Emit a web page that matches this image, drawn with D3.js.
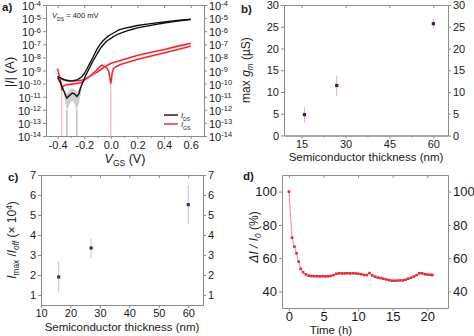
<!DOCTYPE html>
<html><head><meta charset="utf-8">
<script src="https://cdn.jsdelivr.net/npm/d3@7"></script>
<style>
body{margin:0;background:#fff}
svg{display:block}
text{font-family:"Liberation Sans",Arial,sans-serif;fill:#1a1a1a}
</style>
</head><body>
<svg id="fig" width="474" height="336"></svg>
<script>
// ---------- a) transfer curves ----------
const vUp   = [-0.40,-0.37,-0.34,-0.31,-0.28,-0.25,-0.22,-0.20,-0.18,-0.16,-0.14,-0.12,-0.10,-0.08,-0.06,-0.04,-0.02,0.00,0.03,0.06,0.10,0.15,0.20,0.30,0.40,0.50,0.60];
const idsUp = [3.5e-10,2.5e-10,1.8e-10,1.6e-10,1.7e-10,2.0e-10,3.2e-10,5.6e-10,1.3e-9,3.2e-9,7.9e-9,2.0e-8,5.0e-8,1.0e-7,1.8e-7,2.8e-7,4.2e-7,5.6e-7,8.3e-7,1.26e-6,1.66e-6,2.1e-6,2.7e-6,3.8e-6,5.0e-6,6.6e-6,8.3e-6];
const vDn   = [-0.40,-0.38,-0.36,-0.34,-0.33,-0.31,-0.29,-0.27,-0.255,-0.24,-0.23,-0.21,-0.19,-0.17,-0.15,-0.13,-0.11,-0.09,-0.07,-0.05,-0.03,0.00,0.03,0.06,0.10,0.15,0.20,0.30,0.40,0.50,0.60];
const idsDn = [2.8e-10,1.26e-10,4.0e-11,1.26e-11,7.9e-12,1.26e-11,1.9e-11,1.6e-11,1.0e-11,1.6e-11,4.0e-11,1.26e-10,4.0e-10,1.0e-9,2.5e-9,6.3e-9,1.4e-8,3.2e-8,6.3e-8,1.1e-7,1.8e-7,2.8e-7,4.5e-7,6.3e-7,8.9e-7,1.3e-6,1.8e-6,2.8e-6,4.2e-6,6.0e-6,7.9e-6];
// spread of the drain current in the off region
const vBand   = [-0.35,-0.34,-0.33,-0.32,-0.31,-0.30,-0.29,-0.28,-0.27,-0.26,-0.255,-0.25,-0.24,-0.23,-0.22];
const bandHi  = [3.2e-11,2.5e-11,1.6e-11,2.5e-11,3.2e-11,4.0e-11,4.5e-11,4.0e-11,3.2e-11,2.5e-11,2.0e-11,2.5e-11,3.2e-11,5.0e-11,7.9e-11];
const bandLo  = [1.0e-11,2.5e-12,1.0e-12,1.6e-12,2.5e-12,4.0e-12,5.0e-12,4.0e-12,2.5e-12,1.26e-12,1.0e-12,1.6e-12,3.2e-12,1.0e-11,2.5e-11];
const bandDropV = [-0.33,-0.255];
// gate current
const vGs1 = [-0.40,-0.39,-0.38,-0.372,-0.368,-0.36,-0.34,-0.30,-0.26,-0.22,-0.20,-0.16,-0.12,-0.09,-0.07,-0.05,-0.03,-0.015,0.00,0.01,0.02,0.04,0.07,0.10,0.15,0.20,0.30,0.40,0.50,0.60];
const igs1 = [1.4e-9,5.0e-10,2.0e-10,7.9e-11,3.2e-11,6.3e-11,7.9e-11,8.9e-11,1.0e-10,1.26e-10,1.8e-10,3.5e-10,7.9e-10,1.6e-9,2.5e-9,2.2e-9,1.6e-9,7.9e-10,1.0e-10,6.3e-10,1.4e-9,2.0e-9,2.8e-9,3.5e-9,5.0e-9,7.1e-9,1.26e-8,2.2e-8,4.0e-8,7.4e-8];
const vGs2 = [-0.40,-0.37,-0.34,-0.30,-0.26,-0.22,-0.20,-0.15,-0.10,-0.05,0.00,0.05,0.10,0.15,0.20,0.30,0.40,0.50,0.60];
const igs2 = [3.2e-10,2.2e-10,1.8e-10,1.6e-10,1.6e-10,1.8e-10,2.0e-10,4.0e-10,7.9e-10,1.8e-9,3.5e-9,5.0e-9,7.1e-9,1.0e-8,1.4e-8,2.4e-8,4.0e-8,7.1e-8,1.2e-7];
const gsDipV = [-0.368, 0.0];
const gsDipI = [3.2e-11, 1.0e-10];
const aXTicks = [-0.4,-0.2,0,0.2,0.4,0.6];
const aXMinor = [-0.3,-0.1,0.1,0.3,0.5];
const aYTicks = [1e-4,1e-5,1e-6,1e-7,1e-8,1e-9,1e-10,1e-11,1e-12,1e-13,1e-14];

// ---------- b) transconductance ----------
const thickness = [16, 27, 60];
const gmMax  = [4.8, 11.5, 25.7];
const gmLo   = [3.0, 9.0, 24.6];
const gmHi   = [6.5, 13.8, 26.8];
const bXTicks = [15, 30, 45, 60];
const bXMinor = [22.5, 37.5, 52.5];
const bYTicks = [0, 5, 10, 15, 20, 25, 30];

// ---------- c) on/off ratio ----------
const onOff   = [1.9, 3.35, 5.52];
const onOffLo = [1.15, 2.85, 4.55];
const onOffHi = [2.7, 3.82, 6.5];
const cXTicks = [10, 20, 30, 40, 50, 60];
const cYTicks = [1, 2, 3, 4, 5, 6, 7];

// ---------- d) stability ----------
const timeH = [0,0.45,0.8,1.1,1.4,1.7,2.05,2.45,2.85,3.25,3.65,4.05,4.45,4.85,5.25,5.65,6.05,6.45,6.85,7.25,7.65,8.05,8.45,8.85,9.25,9.65,10.05,10.45,10.85,11.25,11.65,12.05,12.45,12.85,13.25,13.65,14.05,14.45,14.85,15.25,15.65,16.05,16.45,16.85,17.25,17.65,18.05,18.45,18.85,19.25,19.65,20.05,20.45,20.75];
const dI    = [100,72.3,66.9,62.9,57.9,53.5,51.5,50.2,49.5,49.2,49.1,49.1,49.0,49.1,49.0,49.1,49.3,49.8,50.6,50.9,50.8,50.8,50.9,50.8,50.9,50.8,50.6,50.3,49.9,49.8,51.0,49.6,48.8,48.3,48.0,47.6,47.2,46.8,46.5,46.4,46.5,46.6,46.6,47.0,47.6,48.2,48.9,49.8,50.9,50.9,50.3,50.1,50.0,49.8];
const dXTicks = [0, 5, 10, 15, 20];
const dYTicks = [40, 60, 80, 100];

const svg = d3.select("#fig");
const AX = "#8c8c8c";

function style(g, fs){
  g.select(".domain").attr("stroke", AX);
  g.selectAll(".tick line").attr("stroke", AX);
  g.selectAll(".tick text").attr("font-size", fs).attr("fill", "#1a1a1a");
  return g;
}

// boxed frame: labelled left/right/bottom axes, inward ticks along the top
function box(x, y, o){
  const [x0, x1] = x.range(), [y0, y1] = y.range();
  const g = svg.append("g");
  const fmtX = o.fmtX || (d => d);
  const fmtY = o.fmtY || (d => d);
  const pad = o.pad == null ? 2 : o.pad;
  if (o.xMinor) g.append("g").attr("transform", `translate(0,${y0})`)
    .call(d3.axisBottom(x).tickValues(o.xMinor).tickSize(2).tickSizeOuter(0).tickFormat(""))
    .call(s => style(s, 0));
  g.append("g").attr("class", "bottom").attr("transform", `translate(0,${y0})`)
    .call(d3.axisBottom(x).tickValues(o.xTicks).tickSize(3).tickSizeOuter(0).tickPadding(pad).tickFormat(fmtX))
    .call(s => style(s, o.fs));
  g.append("g").attr("transform", `translate(0,${y1})`)
    .call(d3.axisTop(x).tickValues(o.xTicks).tickSize(-3).tickSizeOuter(0).tickFormat(""))
    .call(s => style(s, 0));
  g.append("g").attr("class", "side").attr("transform", `translate(${x0},0)`)
    .call(d3.axisLeft(y).tickValues(o.yTicks).tickSize(3).tickSizeOuter(0).tickPadding(2).tickFormat(fmtY))
    .call(s => style(s, o.fs));
  g.append("g").attr("class", "side").attr("transform", `translate(${x1},0)`)
    .call(d3.axisRight(y).tickValues(o.yTicks).tickSize(3).tickSizeOuter(0).tickPadding(2).tickFormat(fmtY))
    .call(s => style(s, o.fs));
  return g;
}

// rich text: parts = [[text, {italic, sub, sup}], ...]
function rich(sel, parts, fs, supRise){
  const rise = supRise == null ? 4.5 : supRise;
  let shift = 0;
  parts.forEach(([t, f]) => {
    f = f || {};
    const target = f.sub ? 3 : f.sup ? -rise : 0;
    const sp = sel.append("tspan").text(t)
      .attr("dy", target - shift)
      .attr("font-size", (f.sub || f.sup) ? fs * 0.68 : fs);
    if (f.italic) sp.attr("font-style", "italic");
    shift = target;
  });
  return sel;
}

const dash = d => String(d).replace("\u2212", "-");

// ===== panel a =====
const xa = d3.scaleLinear().domain([-0.487, 0.70]).range([46, 204]);
const ya = d3.scaleLog().domain([1e-14, 1e-4]).range([136, 5]).clamp(true);
const ga = box(xa, ya, {xTicks: aXTicks, xMinor: aXMinor, yTicks: aYTicks, fs: 11,
  fmtX: d => dash(d3.format(".1f")(d)), fmtY: () => ""});
// power-of-ten labels on both log axes
ga.selectAll(".side .tick text").each(function(d){
  const t = d3.select(this).attr("dy", null).attr("y", 4.5);
  rich(t, [["10"], ["-" + Math.round(-Math.log10(d)), {sup: true}]], 11, 3.6);
});

const plotA = svg.append("g");
const la = d3.line().x(d => xa(d[0])).y(d => ya(d[1]));
plotA.append("path")
  .attr("d", d3.area().x(d => xa(d[0])).y0(d => ya(d[2])).y1(d => ya(d[1]))(d3.zip(vBand, bandHi, bandLo)))
  .attr("fill", "#bdbdbd").attr("opacity", 0.75);
bandDropV.forEach(v => {
  plotA.append("line").attr("x1", xa(v)).attr("x2", xa(v))
    .attr("y1", ya(1e-12)).attr("y2", ya(1e-14))
    .attr("stroke", "#c4c4c4").attr("stroke-width", 1.6);
});
// zero crossings of the gate current
gsDipV.forEach((v, i) => {
  plotA.append("line").attr("x1", xa(v)).attr("x2", xa(v))
    .attr("y1", ya(gsDipI[i])).attr("y2", ya(1e-14))
    .attr("stroke", "#f2a6ac").attr("stroke-width", 1);
});
[[vGs2, igs2], [vGs1, igs1]].forEach(([v, i]) => {
  plotA.append("path").attr("d", la(d3.zip(v, i)))
    .attr("fill", "none").attr("stroke", "#f7b5ba").attr("stroke-width", 2.6).attr("opacity", 0.6);
  plotA.append("path").attr("d", la(d3.zip(v, i)))
    .attr("fill", "none").attr("stroke", "#e3202c").attr("stroke-width", 1.3);
});
[[vUp, idsUp], [vDn, idsDn]].forEach(([v, i]) => {
  plotA.append("path").attr("d", la(d3.zip(v, i)))
    .attr("fill", "none").attr("stroke", "#111").attr("stroke-width", 1.4);
});
rich(svg.append("text").attr("x", 52).attr("y", 18),
  [["V", {italic: true}], ["DS", {sub: true}], [" = 400 mV"]], 7.5);
[["DS", "#111", 115], ["GS", "#e3202c", 124]].forEach(([s, c, yy]) => {
  svg.append("line").attr("x1", 164).attr("x2", 178).attr("y1", yy).attr("y2", yy)
    .attr("stroke", c).attr("stroke-width", 1.4);
  rich(svg.append("text").attr("x", 181).attr("y", yy + 2.5), [["I", {italic: true}], [s, {sub: true}]], 7.5);
});
rich(svg.append("text").attr("x", 125).attr("y", 163).attr("text-anchor", "middle"),
  [["V", {italic: true}], ["GS", {sub: true}], [" (V)"]], 12.5);
rich(svg.append("text").attr("transform", "translate(14,72) rotate(-90)").attr("text-anchor", "middle"),
  [["|"], ["I", {italic: true}], ["| (A)"]], 12.5);
svg.append("text").attr("x", 2).attr("y", 11).attr("font-family", "Liberation Serif, serif")
  .attr("font-weight", "bold").attr("font-size", 11.5).text("a)");

// ===== panel b =====
const xb = d3.scaleLinear().domain([9, 65]).range([284, 448]);
const yb = d3.scaleLinear().domain([0, 30]).range([135.5, 5]);
box(xb, yb, {xTicks: bXTicks, xMinor: bXMinor, yTicks: bYTicks, fs: 11, pad: 1.5});
const gb = svg.append("g");
thickness.forEach((t, i) => {
  gb.append("line").attr("x1", xb(t)).attr("x2", xb(t)).attr("y1", yb(gmLo[i])).attr("y2", yb(gmHi[i]))
    .attr("stroke", "#eaa6d8").attr("stroke-width", 1);
  gb.append("rect").attr("x", xb(t) - 1.6).attr("y", yb(gmMax[i]) - 1.6).attr("width", 3.2).attr("height", 3.2)
    .attr("fill", "#4a1848");
});
svg.append("text").attr("x", 366).attr("y", 161).attr("text-anchor", "middle").attr("font-size", 11.5)
  .text("Semiconductor thickness (nm)");
rich(svg.append("text").attr("transform", "translate(250,70) rotate(-90)").attr("text-anchor", "middle"),
  [["max "], ["g", {italic: true}], ["m", {sub: true, italic: true}], [" (\u00b5S)"]], 12);
svg.append("text").attr("x", 241).attr("y", 13).attr("font-family", "Liberation Serif, serif")
  .attr("font-weight", "bold").attr("font-size", 11.5).text("b)");

// ===== panel c =====
const xc = d3.scaleLinear().domain([10, 65]).range([41, 203]);
const yc = d3.scaleLinear().domain([0.5, 7]).range([305, 175]);
box(xc, yc, {xTicks: cXTicks, yTicks: cYTicks, fs: 11, pad: 1.5});
const gc = svg.append("g");
thickness.forEach((t, i) => {
  gc.append("line").attr("x1", xc(t)).attr("x2", xc(t)).attr("y1", yc(onOffLo[i])).attr("y2", yc(onOffHi[i]))
    .attr("stroke", "#cfcfcf").attr("stroke-width", 1.2);
  gc.append("rect").attr("x", xc(t) - 1.6).attr("y", yc(onOff[i]) - 1.6).attr("width", 3.2).attr("height", 3.2)
    .attr("fill", "#26387a");
});
svg.append("text").attr("x", 122).attr("y", 331).attr("text-anchor", "middle").attr("font-size", 11.5)
  .text("Semiconductor thickness (nm)");
rich(svg.append("text").attr("transform", "translate(16,240) rotate(-90)").attr("text-anchor", "middle"),
  [["I", {italic: true}], ["max", {sub: true}], [" /"], ["I", {italic: true}], ["off", {sub: true, italic: true}],
   [" (\u00d7 10"], ["4", {sup: true}], [")"]], 12);
svg.append("text").attr("x", 8).attr("y", 181).attr("font-family", "Liberation Serif, serif")
  .attr("font-weight", "bold").attr("font-size", 11.5).text("c)");

// ===== panel d =====
const xd = d3.scaleLinear().domain([-1, 23]).range([282, 448]);
const yd = d3.scaleLinear().domain([30, 110]).range([308, 175]);
box(xd, yd, {xTicks: dXTicks, yTicks: dYTicks, fs: 13, pad: 1});
const gd = svg.append("g");
gd.append("path").attr("d", d3.line().x(d => xd(d[0])).y(d => yd(d[1]))(d3.zip(timeH, dI)))
  .attr("fill", "none").attr("stroke", "#f2848f").attr("stroke-width", 1);
timeH.forEach((t, i) => {
  gd.append("rect").attr("x", xd(t) - 1.3).attr("y", yd(dI[i]) - 1.3).attr("width", 2.6).attr("height", 2.6)
    .attr("fill", "#e02a36");
});
svg.append("text").attr("x", 331).attr("y", 334).attr("text-anchor", "middle").attr("font-size", 11.5)
  .text("Time (h)");
rich(svg.append("text").attr("transform", "translate(258,237) rotate(-90)").attr("text-anchor", "middle"),
  [["\u0394I / I", {italic: true}], ["0", {sub: true, italic: true}], [" (%)"]], 12);
svg.append("text").attr("x", 243).attr("y", 180).attr("font-family", "Liberation Serif, serif")
  .attr("font-weight", "bold").attr("font-size", 11.5).text("d)");
</script>
</body></html>
